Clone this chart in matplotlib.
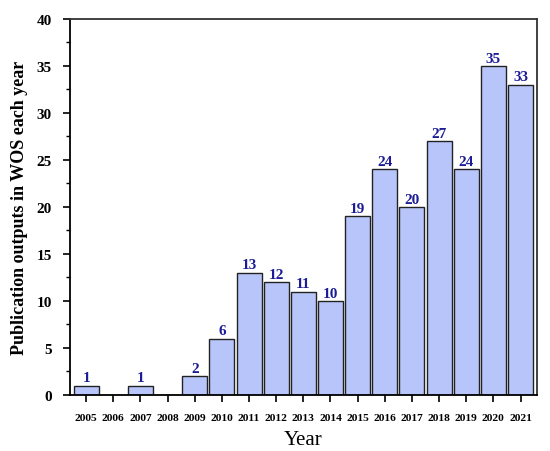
import numpy as np
import matplotlib
matplotlib.use('Agg')
import matplotlib.pyplot as plt
from matplotlib.ticker import MultipleLocator

years = ['2005', '2006', '2007', '2008', '2009', '2010', '2011', '2012', '2013',
         '2014', '2015', '2016', '2017', '2018', '2019', '2020', '2021']
counts = [1, 0, 1, 0, 2, 6, 13, 12, 11, 10, 19, 24, 20, 27, 24, 35, 33]

plt.rcParams['font.family'] = ['Liberation Serif', 'DejaVu Serif']

fig = plt.figure(figsize=(5.5, 4.52), dpi=100)
ax = fig.add_axes([0.127, 0.124, 0.849, 0.832])

x = np.arange(len(years))
bars = ax.bar(x, counts, width=0.92, color='#b8c5fb', edgecolor='#222222', linewidth=1.0, zorder=2)

for xi, c in zip(x, counts):
    if c > 0:
        ax.annotate(str(c), (xi, c), xytext=(0, 1), textcoords='offset points',
                    ha='center', va='bottom', fontsize=11, fontweight='bold', color='#1c1c96')

ax.set_xlim(-0.6, len(years) - 0.4)
ax.set_ylim(0, 40)
ax.set_xticks(x)
ax.set_xticklabels(years, fontsize=8.2, fontweight='bold')
ax.yaxis.set_major_locator(MultipleLocator(5))
ax.yaxis.set_minor_locator(MultipleLocator(2.5))
for lab in ax.get_yticklabels():
    lab.set_fontweight('bold')
    lab.set_fontsize(11)

ax.tick_params(axis='both', which='major', direction='out', length=5, width=1.2, pad=8)
ax.tick_params(axis='x', which='major', pad=8)
ax.tick_params(axis='y', which='minor', direction='out', length=3, width=1.0)
ax.tick_params(top=False, right=False)

for s in ax.spines.values():
    s.set_linewidth(1.3)
    s.set_color('#333333')
ax.spines['left'].set_color('black')
ax.spines['bottom'].set_color('black')

ax.set_xlabel('Year', fontsize=15, labelpad=6)
ax.set_ylabel('Publication outputs in WOS each year', fontsize=13, fontweight='bold', labelpad=6)

fig.savefig('out.png', dpi=100)
